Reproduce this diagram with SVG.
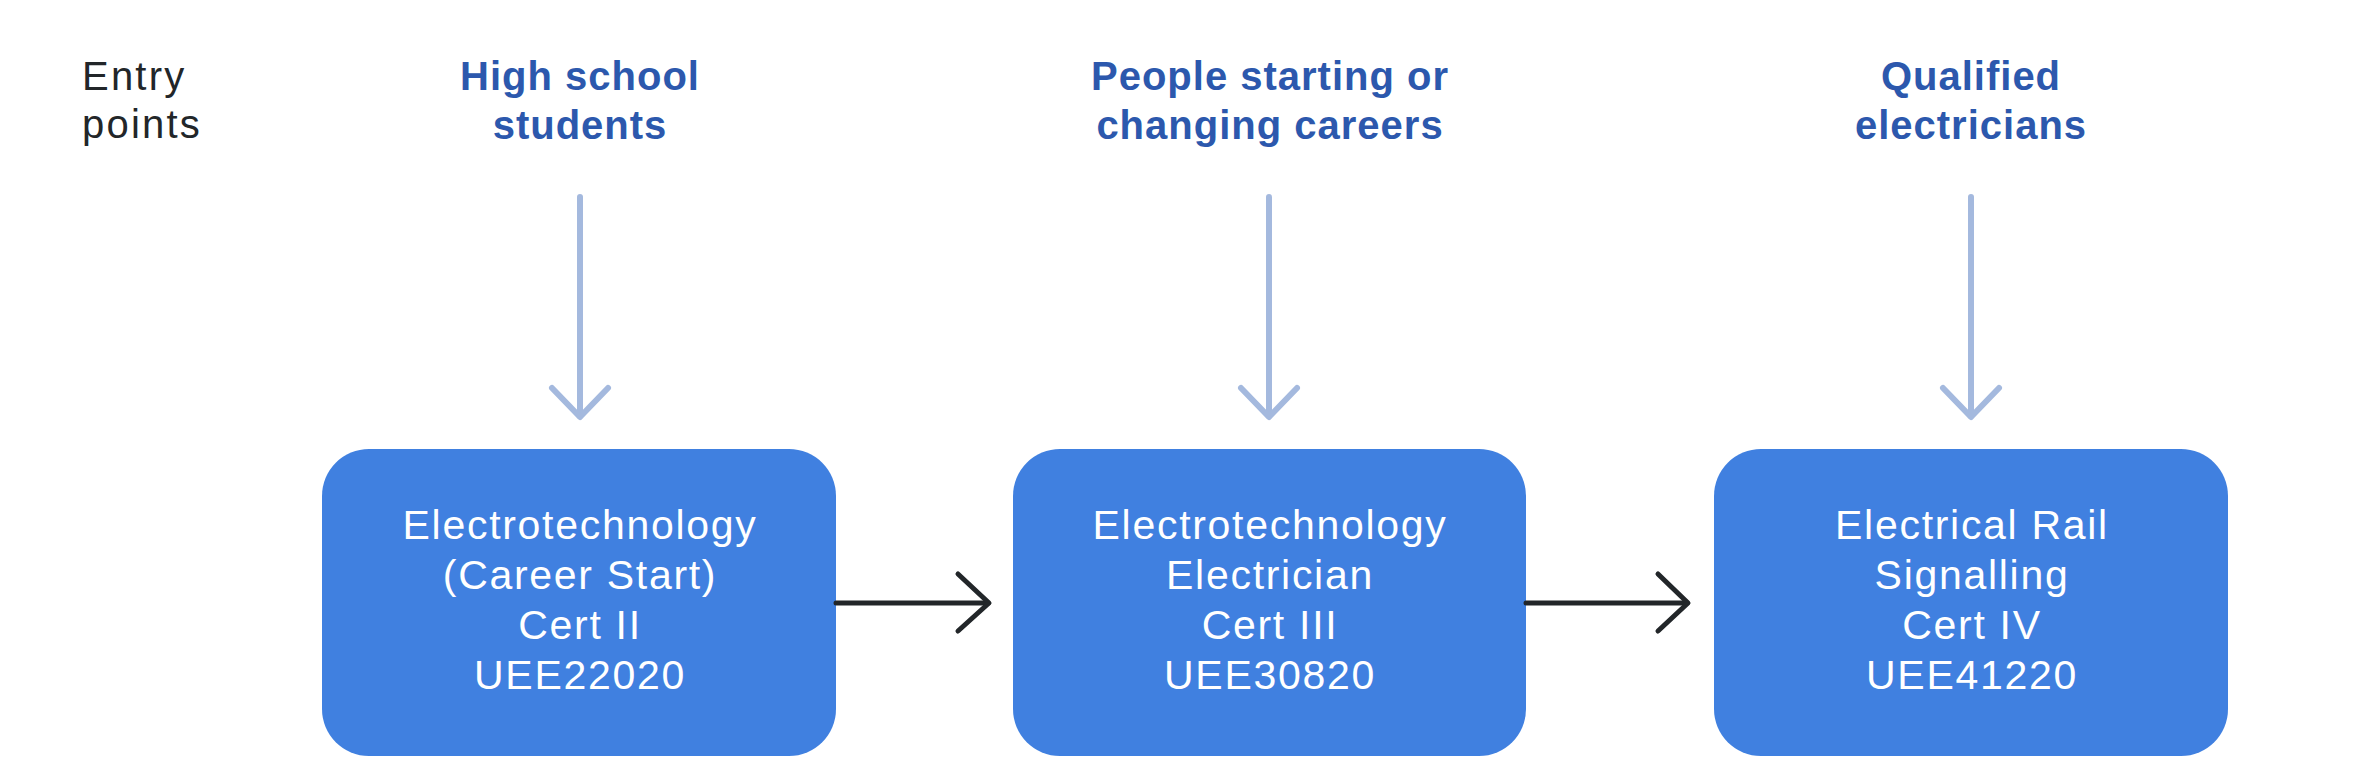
<svg xmlns="http://www.w3.org/2000/svg" width="2354" height="757" viewBox="0 0 2354 757">
<style>
.bg{fill:#ffffff}
.label{font-family:"Liberation Sans",Arial,sans-serif;font-size:40px;fill:#222629;letter-spacing:2.2px}
.head{font-family:"Liberation Sans",Arial,sans-serif;font-size:40px;font-weight:bold;fill:#2c58ad;letter-spacing:1px;text-anchor:middle}
.box{fill:#4080e0}
.btext{font-family:"Liberation Sans",Arial,sans-serif;font-size:41px;fill:#ffffff;letter-spacing:1.7px;text-anchor:middle}
.entry{stroke:#a4b9de;stroke-width:6;fill:none;stroke-linecap:round;stroke-linejoin:round}
.flow{stroke:#222629;stroke-width:5;fill:none;stroke-linecap:round;stroke-linejoin:round}
</style>
<rect class="bg" x="0" y="0" width="2354" height="757"/>
<g id="entry-label">
<text class="label" x="82" y="90">Entry</text>
<text class="label" x="82" y="138">points</text>
</g>
<g id="head-highschool">
<text class="head" x="580" y="90">High school</text>
<text class="head" x="580" y="139">students</text>
</g>
<g id="head-careers">
<text class="head" x="1270" y="90">People starting or</text>
<text class="head" x="1270" y="139">changing careers</text>
</g>
<g id="head-qualified">
<text class="head" x="1971" y="90">Qualified</text>
<text class="head" x="1971" y="139">electricians</text>
</g>
<g id="node-cert2">
<rect class="box" x="322" y="449" width="514" height="307" rx="47" ry="47"/>
<text class="btext" x="580" y="539">Electrotechnology</text>
<text class="btext" x="580" y="589">(Career Start)</text>
<text class="btext" x="580" y="639">Cert II</text>
<text class="btext" x="580" y="689">UEE22020</text>
</g>
<g id="node-cert3">
<rect class="box" x="1013" y="449" width="513" height="307" rx="47" ry="47"/>
<text class="btext" x="1270" y="539">Electrotechnology</text>
<text class="btext" x="1270" y="589">Electrician</text>
<text class="btext" x="1270" y="639">Cert III</text>
<text class="btext" x="1270" y="689">UEE30820</text>
</g>
<g id="node-cert4">
<rect class="box" x="1714" y="449" width="514" height="307" rx="47" ry="47"/>
<text class="btext" x="1972" y="539">Electrical Rail</text>
<text class="btext" x="1972" y="589">Signalling</text>
<text class="btext" x="1972" y="639">Cert IV</text>
<text class="btext" x="1972" y="689">UEE41220</text>
</g>
<g id="connectors">
<path class="entry" d="M580 197 V416" stroke-linecap="butt"/>
<path class="entry" d="M552 388 L580 417 L608 388"/>
<path class="entry" d="M1269 197 V416" stroke-linecap="butt"/>
<path class="entry" d="M1241 388 L1269 417 L1297 388"/>
<path class="entry" d="M1971 197 V416" stroke-linecap="butt"/>
<path class="entry" d="M1943 388 L1971 417 L1999 388"/>
<path class="flow" d="M836 603 H988" stroke-linecap="butt"/>
<path class="flow" d="M958 574 L989 603 L958 631"/>
<path class="flow" d="M1526 603 H1687" stroke-linecap="butt"/>
<path class="flow" d="M1658 574 L1688 603 L1658 631"/>
</g>
</svg>
